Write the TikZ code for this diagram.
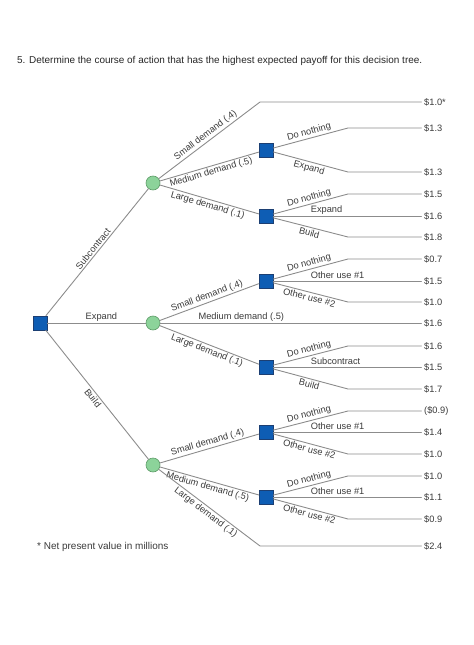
\documentclass[tikz,border=0pt]{standalone}
\usepackage{fontspec}
\setmainfont{Liberation Sans}
\usetikzlibrary{calc}
\definecolor{decBlue}{HTML}{0E5DB4}
\definecolor{decEdge}{HTML}{1C3F73}
\definecolor{chanceGreen}{HTML}{8CD39A}
\definecolor{chanceEdge}{HTML}{5E9C68}
\definecolor{branchGray}{HTML}{8C8C8C}
\definecolor{labelGray}{HTML}{3A3A3A}
\tikzset{
	decision/.style={draw=decEdge, fill=decBlue, minimum size=14bp, inner sep=0pt, line width=0.6bp},
	chance/.style={circle, draw=chanceEdge, fill=chanceGreen, minimum size=14bp, inner sep=0pt, line width=0.6bp},
	branch/.style={draw=branchGray, line width=0.9bp},
	lbl/.style={font=\fontsize{9.3}{10}\selectfont, text=labelGray, inner sep=1.5bp},
	payoff/.style={anchor=west, inner xsep=2.5bp, font=\fontsize{9.3}{10}\selectfont, text=labelGray}
}

\begin{document}
\begin{tikzpicture}[x=1bp, y=-1bp, line cap=round]
	\useasboundingbox (0,0) rectangle (474,645);
	\node[anchor=west, inner sep=0pt, font=\fontsize{10}{12}\selectfont, text=black!85] (title) at (17,61) {5. Determine the course of action that has the highest expected payoff for this decision tree.};

	% decision and chance nodes
	\node[decision] (root) at (40,323) {};
	\node[chance] (c1) at (153,183) {};
	\node[chance] (c2) at (153,323) {};
	\node[chance] (c3) at (153,465) {};
	\node[decision] (d1) at (266,150) {};
	\node[decision] (d2) at (266,216) {};
	\node[decision] (d3) at (266,281) {};
	\node[decision] (d4) at (266,367) {};
	\node[decision] (d5) at (266,432) {};
	\node[decision] (d6) at (266,497) {};

	% payoffs
	\foreach \n/\y/\v in {1/102/{\$1.0*}, 2/128/{\$1.3}, 3/172/{\$1.3}, 4/194/{\$1.5}, 5/216/{\$1.6},
		6/237/{\$1.8}, 7/259/{\$0.7}, 8/281/{\$1.5}, 9/302/{\$1.0}, 10/323/{\$1.6}, 11/346/{\$1.6},
		12/367/{\$1.5}, 13/389/{\$1.7}, 14/411/{(\$0.9)}, 15/432/{\$1.4}, 16/454/{\$1.0},
		17/476/{\$1.0}, 18/497/{\$1.1}, 19/519/{\$0.9}, 20/546/{\$2.4}}
		\node[payoff] (v\n) at (421.5,\y) {\v};

	\coordinate (kc) at (260,0);
	\coordinate (kd) at (348,0);

	% first decision
	\draw[branch] (root) -- node[lbl, above, sloped] {Subcontract} (c1);
	\draw[branch] (root) -- node[lbl, above, pos=0.55] {Expand} (c2);
	\draw[branch] (root) -- node[lbl, below, sloped] {Build} (c3);

	% subcontract
	\draw[branch] (c1) -- node[lbl, above, sloped] {Small demand (.4)} (kc |- v1) -- (v1);
	\draw[branch] (c1) -- node[lbl, below, sloped] {Medium demand (.5)} (d1);
	\draw[branch] (c1) -- node[lbl, below, sloped] {Large demand (.1)} (d2);
	\draw[branch] (d1) -- node[lbl, above, sloped] {Do nothing} (kd |- v2) -- (v2);
	\draw[branch] (d1) -- node[lbl, below, sloped] {Expand} (kd |- v3) -- (v3);
	\draw[branch] (d2) -- node[lbl, above, sloped] {Do nothing} (kd |- v4) -- (v4);
	\draw[branch] (d2) -- node[lbl, above right, pos=0.24] {Expand} (v5);
	\draw[branch] (d2) -- node[lbl, below, sloped] {Build} (kd |- v6) -- (v6);

	% expand
	\draw[branch] (c2) -- node[lbl, above, sloped] {Small demand (.4)} (d3);
	\draw[branch] (c2) -- node[lbl, above, pos=0.31] {Medium demand (.5)} (v10);
	\draw[branch] (c2) -- node[lbl, below, sloped] {Large demand (.1)} (d4);
	\draw[branch] (d3) -- node[lbl, above, sloped] {Do nothing} (kd |- v7) -- (v7);
	\draw[branch] (d3) -- node[lbl, above right, pos=0.24] {Other use \#1} (v8);
	\draw[branch] (d3) -- node[lbl, below, sloped] {Other use \#2} (kd |- v9) -- (v9);
	\draw[branch] (d4) -- node[lbl, above, sloped] {Do nothing} (kd |- v11) -- (v11);
	\draw[branch] (d4) -- node[lbl, above right, pos=0.24] {Subcontract} (v12);
	\draw[branch] (d4) -- node[lbl, below, sloped] {Build} (kd |- v13) -- (v13);

	% build
	\draw[branch] (c3) -- node[lbl, above, sloped] {Small demand (.4)} (d5);
	\draw[branch] (c3) -- node[lbl, below, sloped] {Medium demand (.5)} (d6);
	\draw[branch] (c3) -- node[lbl, below, sloped] {Large demand (.1)} (kc |- v20) -- (v20);
	\draw[branch] (d5) -- node[lbl, above, sloped] {Do nothing} (kd |- v14) -- (v14);
	\draw[branch] (d5) -- node[lbl, above right, pos=0.24] {Other use \#1} (v15);
	\draw[branch] (d5) -- node[lbl, below, sloped] {Other use \#2} (kd |- v16) -- (v16);
	\draw[branch] (d6) -- node[lbl, above, sloped] {Do nothing} (kd |- v17) -- (v17);
	\draw[branch] (d6) -- node[lbl, above right, pos=0.24] {Other use \#1} (v18);
	\draw[branch] (d6) -- node[lbl, below, sloped] {Other use \#2} (kd |- v19) -- (v19);

	\node[anchor=west, inner sep=0pt, font=\fontsize{10}{12}\selectfont, text=labelGray] (note) at (37,547) {* Net present value in millions};
\end{tikzpicture}
\end{document}
